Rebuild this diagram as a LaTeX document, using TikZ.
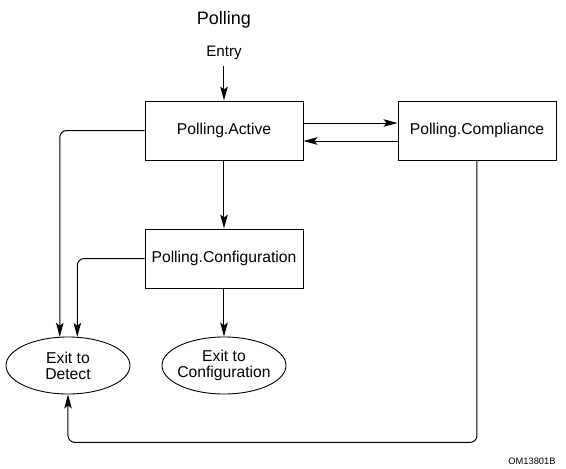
\documentclass[tikz,border=0pt]{standalone}
\usepackage{fontspec}
\setmainfont{Liberation Sans}
\usetikzlibrary{arrows.meta,shapes.geometric}
\tikzstyle{state box}=[
    draw,
    line width = 0.9pt,
    minimum width = 158pt,
    minimum height = 59pt,
    font = \fontsize{15.7}{16}\selectfont
]
\tikzstyle{exit state}=[
    draw,
    ellipse,
    line width = 0.9pt,
    minimum width = 124pt,
    minimum height = 57pt,
    inner xsep = -3.5pt,
    inner ysep = 0pt,
    align = center,
    font = \fontsize{15.7}{16}\selectfont
]

\begin{document}
\begin{tikzpicture}[node distance={129pt}, line width=1pt, flow/.style = {-{Stealth[length=14pt,width=7.5pt,inset=3pt]}, rounded corners=7pt}]
        \useasboundingbox (-224pt,130.5pt) rectangle (342pt,-338.5pt);
        \node[state box] (act) {Polling.Active};
        \node[state box] (comp) [right of = act, node distance=253pt] {Polling.Compliance};
        \node[state box] (cfg) [below of = act, node distance=128pt] {Polling.Configuration};
        \node[exit state] (xcfg) [below of = cfg, node distance=107pt] {Exit to\\Configuration};
        \node[exit state] (det) [left of = xcfg, node distance=156pt] {Exit to\\Detect};
        \node[font=\fontsize{15.2}{16}\selectfont] (entry) [above of = act, node distance=78pt] {Entry};
        \node[font=\fontsize{18}{20}\selectfont] (title) [above of = entry, node distance=33pt] {Polling};
        \node[font=\fontsize{9.3}{10}\selectfont] (om) at (308pt,-330.5pt) {OM13801B};

        \draw[flow, shorten <=3pt] (entry) -- (act);
        \draw[flow] ([yshift=7.5pt]act.east) -- ([yshift=7.5pt]comp.west);
        \draw[flow] ([yshift=-10.5pt]comp.west) -- ([yshift=-10.5pt]act.east);
        \draw[flow] (act) -- (cfg);
        \draw[flow] (cfg) -- (xcfg);
        \draw[flow] (act.west) -| (det.106);
        \draw[flow] (cfg.west) -| (det.72);
        \draw[flow] (comp.south) -- ++(0pt,-282pt) -| (det.south);

    \end{tikzpicture}
\end{document}
